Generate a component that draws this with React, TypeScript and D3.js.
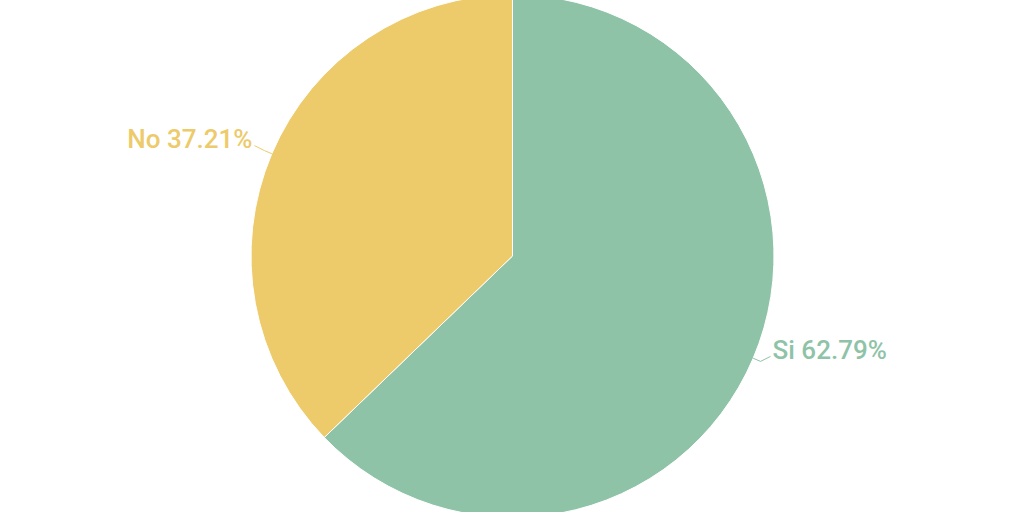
import React, { useEffect, useRef } from "react";
import * as d3 from "d3";

const categories = ["Si", "No"];
const values = [62.79, 37.21];
const colors = ["#8fc3a7", "#edca6a"];

const App = () => {
  const svgRef = useRef<SVGSVGElement>(null);

  useEffect(() => {
    const width = 1024;
    const height = 512;
    const cx = 512.5;
    const cy = 256;
    const radius = 261.5;

    const svg = d3.select(svgRef.current);
    svg.selectAll("*").remove();

    const data = categories.map((c, i) => ({ name: c, value: values[i], color: colors[i] }));

    const pie = d3
      .pie<any>()
      .sort(null)
      .value((d) => d.value);
    const arcs = pie(data);

    const arc = d3.arc<any>().innerRadius(0).outerRadius(radius);

    const g = svg.append("g").attr("transform", `translate(${cx},${cy})`);

    g.selectAll("path.slice")
      .data(arcs)
      .join("path")
      .attr("class", "slice")
      .attr("d", arc)
      .attr("fill", (d) => d.data.color)
      .attr("stroke", "#fff")
      .attr("stroke-width", 1);

    // Leader lines and labels
    arcs.forEach((d) => {
      const mid = (d.startAngle + d.endAngle) / 2;
      const sx = Math.sin(mid);
      const sy = -Math.cos(mid);
      const side = sx >= 0 ? 1 : -1;
      const p0 = [sx * radius, sy * radius];
      const p1 = [sx * (radius + 8), sy * (radius + 8)];
      const p2 = [p1[0] + side * 10, p1[1] - 5];

      g.append("polyline")
        .attr("points", [p0, p1, p2].map((p) => p.join(",")).join(" "))
        .attr("fill", "none")
        .attr("stroke", d.data.color)
        .attr("stroke-width", 1);

      g.append("text")
        .attr("x", p2[0] + side * 2)
        .attr("y", p2[1] - 4)
        .attr("dominant-baseline", "middle")
        .attr("text-anchor", side > 0 ? "start" : "end")
        .attr("fill", d.data.color)
        .style("font-family", "Roboto, sans-serif")
        .style("font-size", "26px")
        .style("font-weight", 500)
        .text(`${d.data.name} ${d.data.value.toFixed(2)}%`);
    });

    svg.attr("width", width).attr("height", height);
  }, []);

  return (
    <div style={{ position: "absolute", left: 0, top: 0, width: 1024, height: 512, overflow: "hidden" }}>
      <svg ref={svgRef} style={{ display: "block" }}></svg>
    </div>
  );
};

export default App;
